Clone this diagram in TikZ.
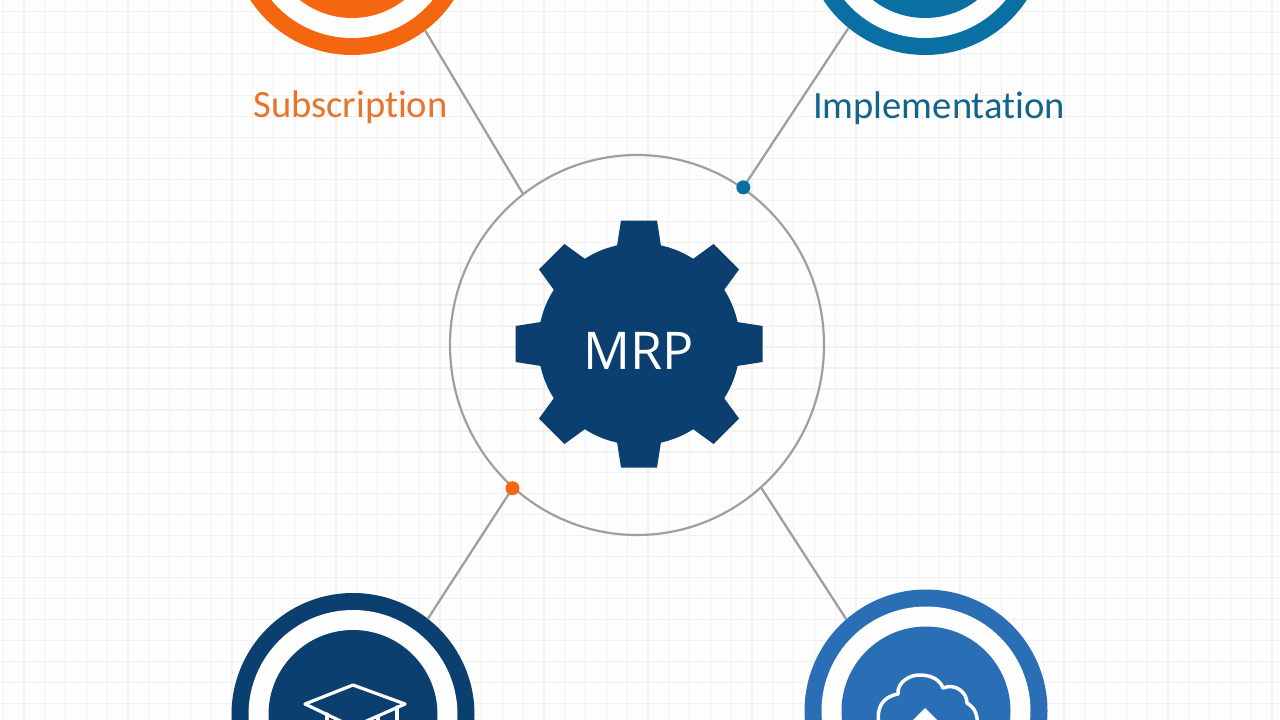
\documentclass[tikz,border=0pt]{standalone}
\usepackage{fontspec}
\setmainfont{Carlito}[Ligatures=NoCommon]
\newfontfamily\mrpfont{Open Sans}
\usetikzlibrary{shapes.geometric}
\definecolor{bgc}{HTML}{FEFEFE}
\definecolor{gridc}{HTML}{F1F1F1}
\definecolor{navy}{HTML}{0B3F6F}
\definecolor{orangec}{HTML}{F4660F}
\definecolor{tealc}{HTML}{0A6FA3}
\definecolor{bluec}{HTML}{2A6FB5}
\definecolor{linec}{HTML}{9F9F9F}
\definecolor{sublabel}{HTML}{E8732A}
\definecolor{implabel}{HTML}{14638A}
\tikzset{
  x=1pt,y=-1pt,
  gridline/.style={gridc,line width=1.3pt},
  link/.style={linec,line width=2.3pt},
  hubring/.style={ellipse,draw=linec,line width=2.2pt,minimum width=374pt,minimum height=380pt,inner sep=0pt},
  outerdisk/.style={circle,fill=#1,minimum size=243pt,inner sep=0pt},
  whitering/.style={circle,fill=bgc,minimum size=209pt,inner sep=0pt},
  innerdisk/.style={circle,fill=#1,minimum size=169pt,inner sep=0pt},
  pin/.style={circle,fill=#1,minimum size=14pt,inner sep=0pt},
  iconline/.style={white,line width=3.2pt,line join=round,line cap=round},
  labeltext/.style={inner sep=0pt,font=\fontsize{38.6}{42}\selectfont}
}
\begin{document}
\begin{tikzpicture}
\useasboundingbox (0,0) rectangle (1280,720);
\clip (0,0) rectangle (1280,720);
\fill[bgc] (0,0) rectangle (1280,720);
% grid
\foreach \i in {0,...,61} \draw[gridline] ({3.2+20.8*\i},0) -- ({3.2+20.8*\i},720);
\foreach \i in {0,...,34} \draw[gridline] (0,{11.5+20.97*\i}) -- (1280,{11.5+20.97*\i});
% hub
\node[hubring] (hub) at (637,345) {};
\coordinate (dotb) at (hub.56);
\coordinate (doto) at (hub.229);
% outer circles
\node[outerdisk=orangec] (subO) at (352,-66.5) {};
\node[outerdisk=tealc] (impO) at (925,-66.5) {};
\node[outerdisk=navy] (eduO) at (353,714.5) {};
\node[outerdisk=bluec] (cloO) at (926,711) {};
\draw[link] (subO.-53) -- (hub.127.7);
\draw[link] (impO.231) -- (dotb);
\draw[link] (eduO.52.6) -- (doto);
\draw[link] (cloO.131.7) -- (hub.-49.7);
\node[pin=tealc] (pinb) at (dotb) {};
\node[pin=orangec] (pino) at (doto) {};
\node[whitering] (subW) at (subO) {};
\node[whitering] (impW) at (impO) {};
\node[whitering] (eduW) at (eduO) {};
\node[whitering] (cloW) at (cloO) {};
\node[innerdisk=orangec] (subI) at (subO) {};
\node[innerdisk=tealc] (impI) at (impO) {};
\node[innerdisk=navy] (eduI) at (eduO) {};
\node[innerdisk=bluec] (cloI) at (cloO) {};
% gear
\fill[navy] (639,344) circle[radius=101];
\foreach \a in {0,45,...,315}
  \fill[navy,shift={(639,344)},rotate=\a] (-22,-98) -- (-18,-123.5) -- (18,-123.5) -- (22,-98) -- cycle;
\node[text=white,inner sep=0pt,font=\mrpfont\fontsize{52}{56}\selectfont] (mrp) at (638.5,351) {MRP};
% labels
\node[labeltext,text=sublabel,anchor=base] (sub) at (350.5,117) {Subscription};
\node[labeltext,text=implabel,anchor=base] (imp) at (939,118) {Implementation};
% cap icon
\draw[iconline] (353,685) -- (405,704) -- (353,727) -- (305,704) -- cycle;
\draw[iconline] (327,714) -- (327,725);
\draw[iconline] (378,716) -- (378,725);
\draw[iconline] (397,707) -- (397,725);
% cloud icon
\draw[iconline,line width=3.5pt] (879,725) .. controls (876,708) and (882,697) .. (898,694)
  .. controls (897,682) and (910,675) .. (919,675)
  .. controls (932,675) and (940,680) .. (943,688)
  .. controls (955,683) and (967,692) .. (967,703)
  .. controls (975,708) and (978,715) .. (977,725);
\fill[white] (925,708) -- (945,728) -- (905,728) -- cycle;
\end{tikzpicture}
\end{document}
